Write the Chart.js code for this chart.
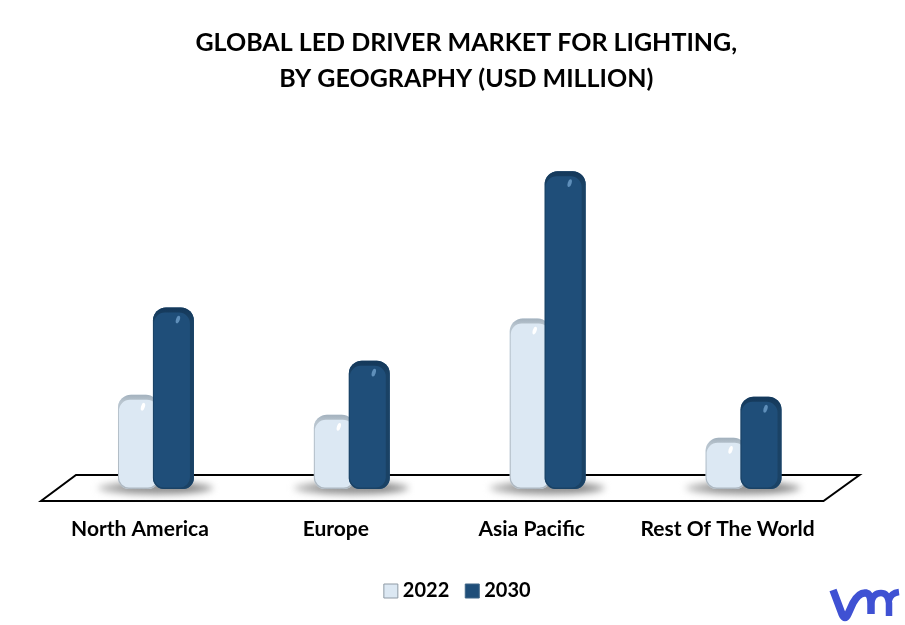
<!DOCTYPE html>
<html>
<head>
<meta charset="utf-8">
<style>html,body{margin:0;padding:0;background:#fff}canvas{display:block}</style>
<script src="https://cdn.jsdelivr.net/npm/chart.js@4"></script>
</head>
<body>
<canvas id="c" width="905" height="625"></canvas>
<script>
const categories = ['North America', 'Europe', 'Asia Pacific', 'Rest Of The World'];
const values2022 = [94, 74, 170, 51];
const values2030 = [181, 128, 317, 92];
const seriesNames = ['2022', '2030'];
const titleLines = ['GLOBAL LED DRIVER MARKET FOR LIGHTING,', 'BY GEOGRAPHY (USD MILLION)'];

const LIGHT = '#dce8f3', DARK = '#1f4e79';

function barPath(ctx, x, y, w, h, rt, rb) {
  ctx.roundRect(x, y, w, h, [rt, rt, rb, rb]);
}

const scene = {
  id: 'scene',
  afterLayout(chart) {
    chart.titleBlock.left += 16.5; chart.titleBlock.right += 16.5;
    chart.legend.left += 10; chart.legend.right += 10;
  },
  beforeDatasetDraw() { return false; },
  afterDatasetsDraw(chart) {
    const ctx = chart.ctx, a = chart.chartArea;
    // floor
    ctx.save();
    ctx.beginPath();
    ctx.moveTo(a.left - 17, a.bottom + 12);
    ctx.lineTo(a.right - 18, a.bottom + 12);
    ctx.lineTo(a.right + 18, a.bottom - 14);
    ctx.lineTo(a.left + 18, a.bottom - 14);
    ctx.closePath();
    ctx.fillStyle = '#fff'; ctx.fill();
    ctx.strokeStyle = '#000'; ctx.lineWidth = 2; ctx.stroke();
    ctx.restore();
    const m0 = chart.getDatasetMeta(0), m1 = chart.getDatasetMeta(1);
    // shadows
    m0.data.forEach((b0, i) => {
      const b1 = m1.data[i], w = b0.width;
      const l = b0.x - w / 2 - 20, r = b1.x + w / 2 + 19;
      ctx.save();
      ctx.filter = 'blur(3.5px)';
      const g = ctx.createLinearGradient(l, 0, r, 0);
      g.addColorStop(0, '#c4c4c4');
      g.addColorStop(0.25, '#9a9a9a');
      g.addColorStop(0.8, '#8a8a8a');
      g.addColorStop(1, '#a8a8a8');
      ctx.fillStyle = g;
      ctx.beginPath();
      ctx.ellipse((l + r) / 2, b0.base - 1, (r - l) / 2, 6.5, 0, 0, Math.PI * 2);
      ctx.fill();
      ctx.restore();
    });
    // bars, 2030 over 2022
    [m0, m1].forEach((m, k) => {
      m.data.forEach(b => {
        b.draw(ctx);
        const w = b.width, x0 = b.x - w / 2, top = b.y, h = b.base - b.y;
        ctx.save();
        ctx.beginPath(); barPath(ctx, x0, top, w, h, 13, 11); ctx.clip();
        const g = ctx.createLinearGradient(0, top, 0, top + h);
        if (k === 0) { g.addColorStop(0, '#a3b1bd'); g.addColorStop(Math.min(1, 7 / h), '#b9c5cf'); g.addColorStop(1, '#aeb8c1'); }
        else { g.addColorStop(0, '#14385a'); g.addColorStop(Math.min(1, 14 / h), '#1a4265'); g.addColorStop(1, '#1a4265'); }
        ctx.fillStyle = g;
        ctx.beginPath();
        ctx.rect(x0 - 1, top - 1, w + 2, h + 2);
        barPath(ctx, x0 + 1, top + 5, w - (k === 0 ? 2 : 5), h - 6.5, 11, 10);
        ctx.fill('evenodd');
        ctx.restore();
        // highlight
        ctx.save();
        ctx.translate(b.x + 4.5, top + 12);
        ctx.rotate(0.3);
        ctx.fillStyle = k === 0 ? '#ffffff' : '#5f8fba';
        ctx.filter = 'blur(0.5px)';
        ctx.beginPath(); ctx.ellipse(0, 0, 1.9, 4, 0, 0, Math.PI * 2); ctx.fill();
        ctx.restore();
      });
    });
    // logo
    ctx.save();
    ctx.strokeStyle = '#3f51d3'; ctx.lineWidth = 7.5; ctx.lineCap = 'butt'; ctx.lineJoin = 'round';
    ctx.beginPath();
    ctx.moveTo(833, 590);
    ctx.lineTo(842, 614);
    ctx.quadraticCurveTo(845, 621, 848, 614);
    ctx.lineTo(853, 603);
    ctx.quadraticCurveTo(859, 592, 866, 593);
    ctx.quadraticCurveTo(871, 594, 871, 604);
    ctx.lineTo(871, 614);
    ctx.stroke();
    ctx.lineWidth = 6.5;
    ctx.beginPath();
    ctx.moveTo(871, 603);
    ctx.quadraticCurveTo(873, 593, 881, 593);
    ctx.quadraticCurveTo(888, 593, 889, 603);
    ctx.lineTo(889, 616);
    ctx.stroke();
    ctx.beginPath();
    ctx.moveTo(889, 600);
    ctx.quadraticCurveTo(891, 593, 899, 592);
    ctx.stroke();
    ctx.restore();
  }
};

new Chart(document.getElementById('c'), {
  type: 'bar',
  data: {
    labels: categories,
    datasets: [
      { label: seriesNames[0], data: values2022, backgroundColor: LIGHT },
      { label: seriesNames[1], data: values2030, backgroundColor: DARK }
    ]
  },
  plugins: [scene],
  options: {
    responsive: false,
    animation: false,
    devicePixelRatio: 1,
    font: { family: 'Lato' },
    layout: { padding: { left: 58, right: 63.5, top: 0, bottom: 14 } },
    datasets: { bar: { categoryPercentage: 0.357, barPercentage: 1.171, borderRadius: { topLeft: 13, topRight: 13, bottomLeft: 11, bottomRight: 11 }, borderSkipped: false } },
    scales: {
      x: {
        grid: { display: false }, border: { display: false },
        afterFit(s) { s.height = 71; },
        ticks: { color: '#000', padding: 20, labelOffset: -16, maxRotation: 0, autoSkip: false,
                 font: { family: 'Lato', size: 21, weight: '700' } }
      },
      y: { display: false, min: 0, max: 387 }
    },
    plugins: {
      tooltip: { enabled: false },
      title: {
        display: true, text: titleLines, color: '#000',
        font: { family: 'Lato', size: 25, weight: '700', lineHeight: 1.44 },
        padding: { top: 25, bottom: 4 }
      },
      legend: {
        position: 'bottom',
        labels: {
          color: '#000', boxWidth: 4, boxHeight: 14, padding: 21, usePointStyle: true, pointStyle: 'rect',
          font: { family: 'Lato', size: 20, weight: '700' },
          generateLabels(chart) {
            return Chart.defaults.plugins.legend.labels.generateLabels(chart).map(l => {
              l.strokeStyle = l.datasetIndex === 0 ? '#8f9aa5' : '#3f6587'; l.lineWidth = 1; l.pointStyle = 'rect'; return l;
            });
          }
        }
      }
    }
  }
});
</script>
</body>
</html>
